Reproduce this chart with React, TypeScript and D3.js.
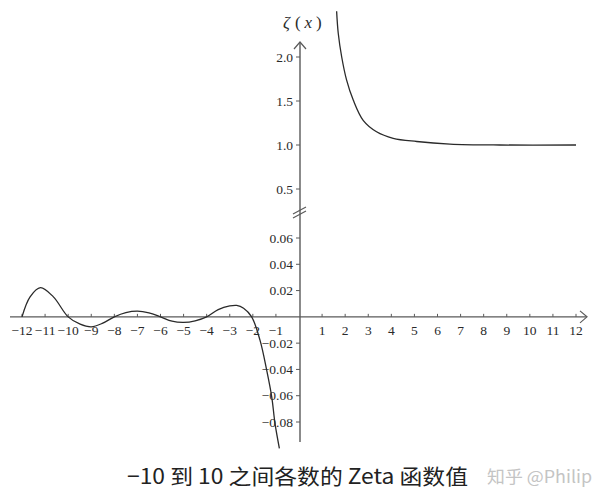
import React from 'react';
import * as d3 from 'd3';

// values
const xTicks = [-12, -11, -10, -9, -8, -7, -6, -5, -4, -3, -2, -1, 1, 2, 3, 4, 5, 6, 7, 8, 9, 10, 11, 12];
const upperTicks = [0.5, 1.0, 1.5, 2.0];
const lowerTicks = [-0.08, -0.06, -0.04, -0.02, 0.02, 0.04, 0.06];

// x > 1 branch (upper scale)
const rightX = [1.63, 1.7, 1.85, 2.06, 2.35, 2.78, 3.36, 4.08, 5.1, 6.54, 8.7, 12];
const rightY = [2.52, 2.27, 2.0, 1.74, 1.51, 1.28, 1.15, 1.076, 1.04, 1.011, 1.0, 1.0];

// x < 0 branch (lower scale)
const leftX = [-12, -11.65, -11.2, -10.64, -10, -9.48, -9, -8.5, -8, -7.5, -7, -6.5, -6, -5.5, -5, -4.5, -4, -3.5, -3, -2.7, -2.4, -2.05, -1.69, -1.4, -1.18, -1.04, -0.85];
const leftY = [0, 0.0152, 0.0222, 0.0152, 0, -0.0056, -0.0076, -0.0048, 0, 0.0032, 0.0043, 0.003, 0, -0.0033, -0.0042, -0.003, 0, 0.0055, 0.0083, 0.0087, 0.0066, 0, -0.0177, -0.0405, -0.061, -0.081, -0.1];

const W = 608;
const H = 500;
const serif = '"Liberation Serif", "DejaVu Serif", serif';
const sans = '"Noto Sans CJK SC", "Noto Sans", sans-serif';

export default function App() {
  const x = d3.scaleLinear().domain([-12, 12]).range([22, 576]);
  const yUp = d3.scaleLinear().domain([0.5, 2.0]).range([189, 57]);
  const yLo = d3.scaleLinear().domain([-0.08, 0.06]).range([422, 238]);

  const x0 = x(0) + 1;
  const y0 = yLo(0);

  const line = d3.line<[number, number]>().curve(d3.curveCatmullRom.alpha(0.5));
  const rightPath = line(rightX.map((v, i) => [x(v), yUp(rightY[i])]));
  const leftPath = line(leftX.map((v, i) => [x(v), yLo(leftY[i])]));

  const axisColor = '#5a5a5a';
  const ink = '#2a2a2a';

  return (
    <div style={{ position: 'absolute', left: 0, top: 0 }}>
      <svg width={W} height={H} style={{ display: 'block', background: '#fff' }}>
        {/* x axis */}
        <line x1={10} x2={586} y1={y0} y2={y0} stroke={axisColor} strokeWidth={1.4} />
        <path d={`M${580},${y0 - 6}L${587},${y0}L${580},${y0 + 6}`} fill="none" stroke={axisColor} strokeWidth={1.2} />
        {xTicks.map(t => (
          <g key={t}>
            <line x1={x(t)} x2={x(t)} y1={y0} y2={y0 - 3} stroke={axisColor} strokeWidth={1} />
            <text x={x(t)} y={y0 + 18} textAnchor="middle" fontFamily={serif} fontSize={13.5} fill={ink}>
              {t < 0 ? `\u2212${-t}` : t}
            </text>
          </g>
        ))}

        {/* y axis */}
        <line x1={x0} x2={x0} y1={42} y2={442} stroke={axisColor} strokeWidth={1.4} />
        <path d={`M${x0 - 6},${49}L${x0},${42}L${x0 + 6},${49}`} fill="none" stroke={axisColor} strokeWidth={1.2} />
        {upperTicks.map(t => (
          <g key={'u' + t}>
            <line x1={x0 - 4} x2={x0} y1={yUp(t)} y2={yUp(t)} stroke={axisColor} strokeWidth={1} />
            <text x={x0 - 7} y={yUp(t) + 4.5} textAnchor="end" fontFamily={serif} fontSize={13.5} fill={ink}>
              {t.toFixed(1)}
            </text>
          </g>
        ))}
        {lowerTicks.map(t => (
          <g key={'l' + t}>
            <line x1={x0 - 4} x2={x0} y1={yLo(t)} y2={yLo(t)} stroke={axisColor} strokeWidth={1} />
            <text x={x0 - 7} y={yLo(t) + 4.5} textAnchor="end" fontFamily={serif} fontSize={13.5} fill={ink}>
              {t < 0 ? `\u2212${(-t).toFixed(2)}` : t.toFixed(2)}
            </text>
          </g>
        ))}

        {/* axis break */}
        <line x1={x0 - 7} x2={x0 + 6} y1={214} y2={207} stroke={axisColor} strokeWidth={1.2} />
        <line x1={x0 - 7} x2={x0 + 6} y1={218} y2={211} stroke={axisColor} strokeWidth={1.2} />

        {/* axis title */}
        <text x={283} y={28} fontFamily={serif} fontSize={17} fill={ink}>
          <tspan fontStyle="italic">ζ</tspan>
          <tspan dx={5}>(</tspan>
          <tspan dx={4} fontStyle="italic">x</tspan>
          <tspan dx={4}>)</tspan>
        </text>

        {/* curves */}
        <path d={rightPath ?? ''} fill="none" stroke={ink} strokeWidth={1.3} />
        <path d={leftPath ?? ''} fill="none" stroke={ink} strokeWidth={1.3} />

        {/* caption */}
        <text x={127} y={484} fontFamily={sans} fontSize={21} fill="#222"
          textLength={341} lengthAdjust="spacingAndGlyphs">
          −10 到 10 之间各数的 Zeta 函数值
        </text>
        <text x={487} y={483} fontFamily={sans} fontSize={17} fill="#c4c4c4"
          textLength={105} lengthAdjust="spacingAndGlyphs">
          知乎 @Philip
        </text>
      </svg>
    </div>
  );
}
